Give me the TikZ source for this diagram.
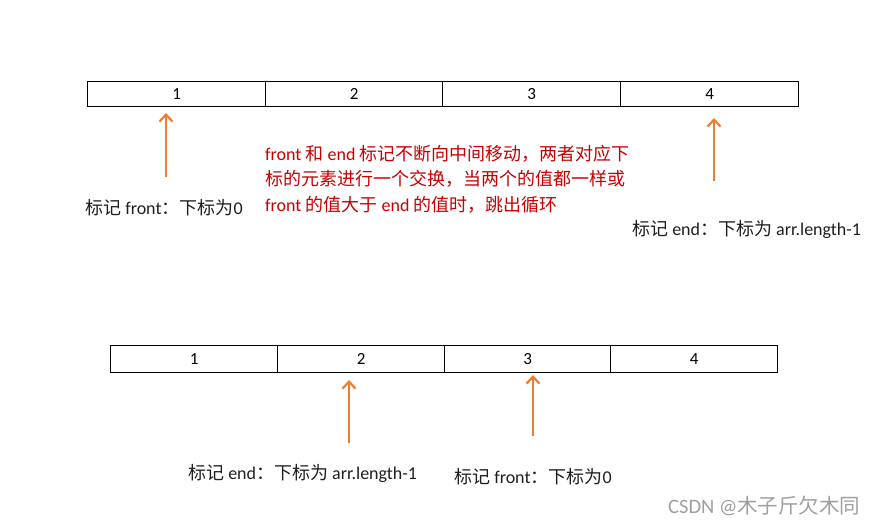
\documentclass[tikz,border=0pt]{standalone}
\usepackage{fontspec}
\setmainfont{Carlito}
\newfontfamily\cjk{Noto Sans CJK SC}
\usetikzlibrary{arrows.meta}
\definecolor{arrorange}{RGB}{237,125,49}
\definecolor{txtred}{RGB}{200,0,0}
\definecolor{txtdark}{RGB}{30,30,30}
\newcommand{\zh}[1]{{\cjk #1}}
\begin{document}
\begin{tikzpicture}[x=1pt,y=-1pt,
  cell/.style={draw=black,line width=1.2pt,minimum height=25pt,inner sep=0pt,anchor=north west,font=\fontsize{17}{17}\selectfont},
  pointer/.style={draw=arrorange,line width=2.6pt,-{Straight Barb[length=7pt,width=13pt,line width=2.2pt]}},
  lbl/.style={text=txtdark,font=\fontsize{18}{18}\selectfont,inner sep=0pt,anchor=west},
  note/.style={text=txtred,font=\fontsize{18}{25.5}\selectfont,inner sep=0pt,anchor=north west,align=left},
  wm/.style={text=gray!75,font=\fontsize{20.5}{20.5}\selectfont,inner sep=0pt,anchor=west}]
\useasboundingbox (0,0) rectangle (873,525);
% top array
\node[cell,minimum width=178pt] (t1) at (87,81) {1};
\node[cell,minimum width=177pt] (t2) at (265,81) {2};
\node[cell,minimum width=178pt] (t3) at (442,81) {3};
\node[cell,minimum width=178pt] (t4) at (620,81) {4};
% bottom array
\node[cell,minimum width=167pt,minimum height=27pt] (b1) at (110,345) {1};
\node[cell,minimum width=167pt,minimum height=27pt] (b2) at (277,345) {2};
\node[cell,minimum width=166pt,minimum height=27pt] (b3) at (444,345) {3};
\node[cell,minimum width=167pt,minimum height=27pt] (b4) at (610,345) {4};
% arrow ends
\coordinate (ta1s) at (166,177);
\coordinate (ta1e) at (166,113);
\coordinate (ta2s) at (714,181);
\coordinate (ta2e) at (714,118);
\coordinate (ba1s) at (349,443);
\coordinate (ba1e) at (349,380);
\coordinate (ba2s) at (533,436);
\coordinate (ba2e) at (533,375);
\draw[pointer] (ta1s) -- (ta1e);
\draw[pointer] (ta2s) -- (ta2e);
\draw[pointer] (ba1s) -- (ba1e);
\draw[pointer] (ba2s) -- (ba2e);
% labels
\node[lbl] (lf1) at (85,208) {\zh{标记} front\zh{：下标为}0};
\node[lbl] (le1) at (632,229) {\zh{标记} end\zh{：下标为} arr.length-1};
\node[lbl] (le2) at (188,473) {\zh{标记} end\zh{：下标为} arr.length-1};
\node[lbl] (lf2) at (454,477) {\zh{标记} front\zh{：下标为}0};
\node[note] (nt) at (265,145) {front \zh{和} end \zh{标记不断向中间移动，两者对应下}\\\zh{标的元素进行一个交换，当两个的值都一样或}\\front \zh{的值大于} end \zh{的值时，跳出循环}};
\node[wm] (w) at (668,506) {CSDN @\zh{木子斤欠木同}};
\end{tikzpicture}
\end{document}
